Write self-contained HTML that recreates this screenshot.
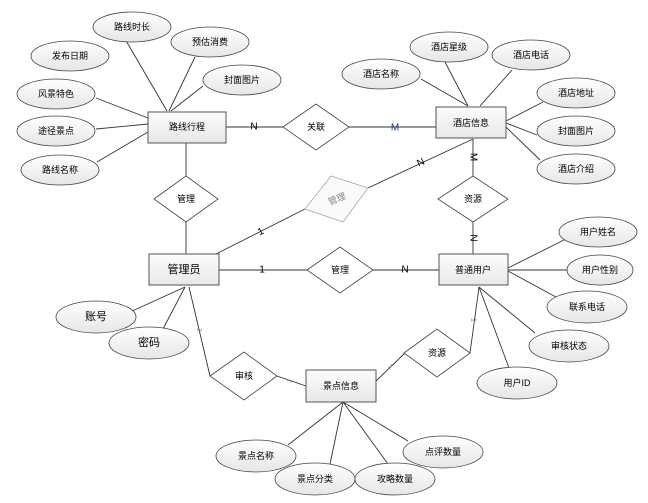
<!DOCTYPE html>
<html><head><meta charset="utf-8"><style>
html,body{margin:0;padding:0;background:#fff;}
svg{display:block;}
text{font-family:"Liberation Sans","Noto Sans CJK SC",sans-serif;font-size:9px;fill:#000;text-anchor:middle;dominant-baseline:central;}
.e{fill:url(#g);stroke:#444;stroke-width:0.8;}
.r{fill:url(#g2);stroke:#555;stroke-width:1;}
.d{fill:#fff;stroke:#444;stroke-width:0.8;}
line,polyline{stroke:#333;stroke-width:0.9;fill:none;}
.lbl{font-size:10px;}
</style></head><body>
<svg width="648" height="503" viewBox="0 0 648 503" xmlns="http://www.w3.org/2000/svg">
<defs>
<linearGradient id="g" x1="0" y1="0" x2="0" y2="1"><stop offset="0" stop-color="#fff"/><stop offset="1" stop-color="#e6e6e6"/></linearGradient>
<linearGradient id="g2" x1="0" y1="0" x2="0" y2="1"><stop offset="0" stop-color="#fcfcfc"/><stop offset="1" stop-color="#e8e8e8"/></linearGradient>
</defs>
<!-- lines route -->
<line x1="125" y1="39" x2="167" y2="111"/>
<line x1="195" y1="57" x2="169" y2="111"/>
<line x1="203" y1="86" x2="171" y2="111"/>
<line x1="96" y1="98" x2="148" y2="118"/>
<line x1="96" y1="129" x2="148" y2="124"/>
<line x1="97" y1="162" x2="148" y2="132"/>
<line x1="226" y1="127" x2="283" y2="127"/>
<line x1="349" y1="127" x2="436" y2="127"/>
<line x1="186" y1="143" x2="186" y2="254"/>
<!-- hotel -->
<line x1="421" y1="79" x2="468" y2="106"/>
<line x1="445" y1="62" x2="468" y2="106"/>
<line x1="512" y1="70" x2="480" y2="106"/>
<line x1="543" y1="102" x2="506" y2="121"/>
<line x1="506" y1="123" x2="537" y2="135"/>
<line x1="506" y1="127" x2="540" y2="160"/>
<line x1="473" y1="139" x2="473" y2="254"/>
<line x1="216" y1="254" x2="305" y2="209"/>
<line x1="368" y1="188" x2="473" y2="139"/>
<!-- admin -->
<line x1="219" y1="270" x2="439" y2="270"/>
<line x1="185" y1="287" x2="130" y2="312"/>
<line x1="185" y1="287" x2="163" y2="329"/>
<line x1="189" y1="287" x2="210" y2="376"/>
<line x1="277" y1="376" x2="306" y2="386"/>
<!-- user -->
<line x1="508" y1="268" x2="570" y2="237"/>
<line x1="508" y1="270" x2="567" y2="270"/>
<line x1="508" y1="271" x2="556" y2="297"/>
<line x1="479" y1="287" x2="535" y2="333"/>
<line x1="479" y1="287" x2="509" y2="368"/>
<line x1="479" y1="287" x2="470" y2="353"/>
<line x1="376" y1="381" x2="405" y2="353"/>
<!-- scenic -->
<line x1="343" y1="402" x2="288" y2="445"/>
<line x1="343" y1="402" x2="330" y2="464"/>
<line x1="343" y1="402" x2="388" y2="464"/>
<line x1="343" y1="402" x2="408" y2="441"/>

<!-- entities -->
<rect class="r" x="148" y="112" width="78" height="31"/><text x="187" y="127">路线行程</text>
<rect class="r" x="436" y="107" width="70" height="31"/><text x="471" y="123">酒店信息</text>
<rect class="r" x="149" y="254" width="70" height="31"/><text x="184" y="270" style="font-size:11px">管理员</text>
<rect class="r" x="439" y="254" width="69" height="31"/><text x="473" y="270">普通用户</text>
<rect class="r" x="306" y="370" width="70" height="32"/><text x="341" y="386">景点信息</text>

<!-- diamonds -->
<polygon class="d" points="283,127 316,104 349,127 316,150"/><text x="316" y="127">关联</text>
<polygon class="d" points="154,199 186,176 218,199 186,222"/><text x="186" y="199">管理</text>
<polygon class="d" points="438,199 473,176 508,199 473,222"/><text x="473" y="199">资源</text>
<polygon class="d" points="307,270 340,247 373,270 340,293"/><text x="340" y="270">管理</text>
<polygon class="d" points="210,376 244,352 277,376 244,400"/><text x="244" y="376">审核</text>
<polygon class="d" points="404,353 437,329 470,353 437,377"/><text x="437" y="353">资源</text>
<polygon points="305,209 331,176 368,188 343,222" fill="#fafafa" stroke="#aaa" stroke-width="0.8"/>
<text x="337" y="199" fill="#888" style="fill:#888" transform="rotate(-22 337 199)">管理</text>

<!-- cardinality -->
<text class="lbl" x="254" y="127">N</text>
<text class="lbl" x="395" y="128" style="fill:#1a3a8a">M</text>
<text class="lbl" x="421" y="163" transform="rotate(-25 421 163)">N</text>
<text class="lbl" x="473" y="157" transform="rotate(90 473 157)">M</text>
<text class="lbl" x="473" y="238" transform="rotate(90 473 238)">N</text>
<text class="lbl" x="261" y="232" transform="rotate(-25 261 232)">1</text>
<text class="lbl" x="262" y="270">1</text>
<text class="lbl" x="405" y="270">N</text>
<text x="200" y="330" style="font-size:7px;fill:#777" transform="rotate(-75 200 330)">1</text>
<text x="290" y="381" style="font-size:7px;fill:#777" transform="rotate(-70 290 381)">1</text>
<text x="390" y="367" style="font-size:7px;fill:#777" transform="rotate(45 390 367)">1</text>
<text x="473" y="320" style="font-size:7px;fill:#777" transform="rotate(90 473 320)">1</text>

<!-- attributes -->
<ellipse class="e" cx="132" cy="27" rx="39" ry="15"/><text x="132" y="27">路线时长</text>
<ellipse class="e" cx="210" cy="42" rx="39" ry="15"/><text x="210" y="42">预估消费</text>
<ellipse class="e" cx="70" cy="56" rx="39" ry="15"/><text x="70" y="56">发布日期</text>
<ellipse class="e" cx="242" cy="80" rx="39" ry="15"/><text x="242" y="80">封面图片</text>
<ellipse class="e" cx="56" cy="94" rx="39" ry="15"/><text x="56" y="94">风景特色</text>
<ellipse class="e" cx="56" cy="131" rx="39" ry="15"/><text x="56" y="131">途径景点</text>
<ellipse class="e" cx="60" cy="170" rx="39" ry="15"/><text x="60" y="170">路线名称</text>

<ellipse class="e" cx="449" cy="47" rx="39" ry="15"/><text x="449" y="47">酒店星级</text>
<ellipse class="e" cx="531" cy="55" rx="39" ry="15"/><text x="531" y="55">酒店电话</text>
<ellipse class="e" cx="381" cy="74" rx="39" ry="15"/><text x="381" y="74">酒店名称</text>
<ellipse class="e" cx="576" cy="93" rx="39" ry="15"/><text x="576" y="93">酒店地址</text>
<ellipse class="e" cx="576" cy="131" rx="39" ry="15"/><text x="576" y="131">封面图片</text>
<ellipse class="e" cx="576" cy="169" rx="39" ry="15"/><text x="576" y="169">酒店介绍</text>

<ellipse class="e" cx="598" cy="232" rx="39" ry="15"/><text x="598" y="232">用户姓名</text>
<ellipse class="e" cx="600" cy="270" rx="33" ry="15"/><text x="600" y="270">用户性别</text>
<ellipse class="e" cx="587" cy="307" rx="40" ry="16"/><text x="587" y="307">联系电话</text>
<ellipse class="e" cx="569" cy="346" rx="40" ry="16"/><text x="569" y="346">审核状态</text>
<ellipse class="e" cx="517" cy="383" rx="40" ry="16"/><text x="517" y="383">用户ID</text>

<ellipse class="e" cx="96" cy="317" rx="40" ry="16"/><text x="96" y="317" style="font-size:11px">账号</text>
<ellipse class="e" cx="149" cy="343" rx="40" ry="16"/><text x="149" y="343" style="font-size:11px">密码</text>

<ellipse class="e" cx="256" cy="456" rx="40" ry="16"/><text x="256" y="456">景点名称</text>
<ellipse class="e" cx="315" cy="479" rx="40" ry="16"/><text x="315" y="479">景点分类</text>
<ellipse class="e" cx="395" cy="479" rx="40" ry="16"/><text x="395" y="479">攻略数量</text>
<ellipse class="e" cx="443" cy="452" rx="40" ry="16"/><text x="443" y="452">点评数量</text>
</svg>
</body></html>
